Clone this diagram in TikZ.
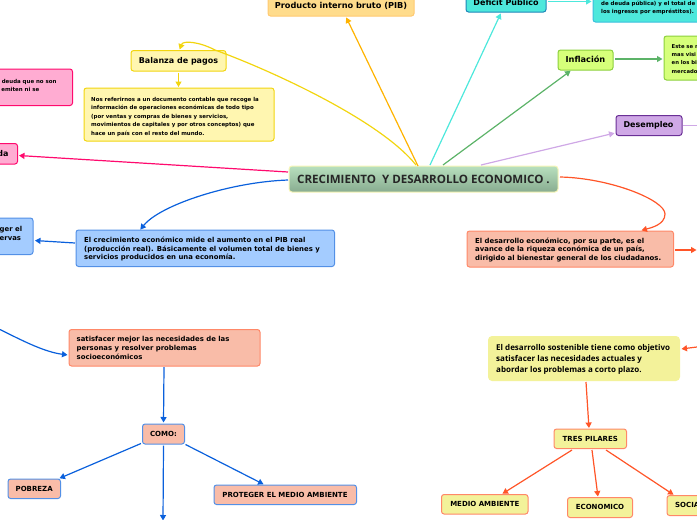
\documentclass[tikz,border=0pt]{standalone}
\usepackage{fontspec}
\setmainfont{DejaVu Sans}
\newfontfamily\opensans{Open Sans}
\usetikzlibrary{arrows.meta,calc}
\definecolor{cyel}{HTML}{F2D50F}\definecolor{fyel}{HTML}{FFF6B0}
\definecolor{corg}{HTML}{FFB300}\definecolor{forg}{HTML}{FFDC8C}
\definecolor{ccya}{HTML}{4DE8DC}\definecolor{fcya}{HTML}{4DE8DC}\definecolor{dcya}{HTML}{1C86B8}
\definecolor{cgrn}{HTML}{5CB368}\definecolor{fgrn}{HTML}{D6FF7A}\definecolor{dgrn}{HTML}{8CD03C}
\definecolor{cpur}{HTML}{CFA8E6}\definecolor{dpur}{HTML}{6A2F96}
\definecolor{cpnk}{HTML}{FF0A6E}\definecolor{fpnk}{HTML}{FFACD2}
\definecolor{cblu}{HTML}{0A60DC}\definecolor{fblu}{HTML}{A4CCFF}
\definecolor{cred}{HTML}{FF5528}\definecolor{fsal}{HTML}{F9BCA8}
\definecolor{flim}{HTML}{F3F29A}
\definecolor{gtop}{HTML}{B8E0BE}\definecolor{gbot}{HTML}{88AC90}
\tikzset{
 x=1pt,y=-1pt,
 every node/.style={inner sep=0pt},
 bx/.style={draw,rounded corners=2.6pt,line width=1pt,anchor=center},
 tx/.style={align=left,text=black,anchor=north west,yshift=-1.5pt},
 big/.style={font=\bfseries\fontsize{8}{9}\selectfont},
 sml/.style={font=\bfseries\fontsize{7}{8}\selectfont},
 body/.style={tx,font=\bfseries\fontsize{6.9}{8.6}\selectfont},
 fine/.style={tx,font=\bfseries\fontsize{5.45}{8.5}\selectfont},
 conn/.style={line width=1.2pt,-{Triangle[length=5.5pt,width=6pt]},shorten >=0.5pt},
}
\newcommand{\bxat}[6]{% name, x1,y1,x2,y2, style
  \node[bx,#6,minimum width=#4pt-#2pt,minimum height=#5pt-#3pt] (#1) at ({(#2+#4)/2},{(#3+#5)/2}) {};}
\begin{document}
\begin{tikzpicture}
\useasboundingbox (0,0) rectangle (697,520);
\begin{scope}
\clip (0,0) rectangle (697,520);
% central
\node[rounded corners=3pt,draw=flim!70!white,line width=1pt,minimum width=269pt,minimum height=26pt,top color=gtop,bottom color=gbot] (main) at (423.5,179) {};
\node[font=\opensans\bfseries\fontsize{11.55}{13}\selectfont,text=black!85] (maint) at (423.5,179) {CRECIMIENTO\ \ Y DESARROLLO ECONOMICO .};
% top row
\bxat{pib}{268}{-12}{414}{16}{draw=forg!80!orange,fill=forg}
\node[big,font=\bfseries\fontsize{8.2}{9}\selectfont] (pibt) at (341,5.5) {Producto interno bruto (PIB)};
\bxat{def}{466}{-10}{546}{12}{draw=dcya,fill=fcya}
\node[big] (deft) at (506,2) {Déficit Público};
\bxat{defd}{593}{-20}{720}{22}{draw=cblu!30!ccya,fill=fcya}
\node[fine,yshift=1.5pt] (defdt) at (601,0.5) {de deuda pública) y el total de\\los ingresos por empréstitos).};
\bxat{inf}{558}{50}{613}{70}{draw=dgrn,fill=fgrn}
\node[big,font=\bfseries\fontsize{8.2}{9}\selectfont] (inft) at (585.5,59.5) {Inflación};
\bxat{infd}{664}{36}{740}{80}{draw=dgrn,fill=fgrn}
\node[fine,font=\bfseries\fontsize{5.3}{8.4}\selectfont] (infdt) at (671.5,42.5) {Este se m\\mas visi\\en los bi\\mercado};
\bxat{des}{616}{115.5}{682}{135.5}{draw=dpur,fill=cpur}
\node[big] (dest) at (648.5,125.5) {Desempleo};
% left
\bxat{bal}{131}{50.5}{226}{71}{draw=cyel,fill=fyel}
\node[big] (balt) at (178.5,61) {Balanza de pagos};
\bxat{bald}{84}{88}{274}{141}{draw=cyel,fill=fyel}
\node[fine] (baldt) at (91,95.5) {Nos referirnos a un documento contable que recoge la\\información de operaciones económicas de todo tipo\\(por ventas y compras de bienes y servicios,\\movimientos de capitales y por otros conceptos) que\\hace un país con el resto del mundo.};
\bxat{dd}{-40}{69}{72.5}{105.5}{draw=cpnk,fill=fpnk}
\node[fine] (ddt) at (-4,77.5) {a deuda que no son\\s emiten ni se\\o};
\bxat{da}{-30}{143.5}{17.5}{164}{draw=cpnk,fill=fpnk}
\node[big,anchor=east] (dat) at (8.7,154) {da};
\bxat{pr}{-60}{218}{33}{254.5}{draw=cblu!70!white,fill=fblu}
\node[body] (prt) at (-0.5,225) {ger el\\ervas};
\bxat{cre}{76}{230}{334.5}{266.5}{draw=cblu!70!white,fill=fblu}
\node[body] (cret) at (84,235.5) {El crecimiento económico mide el aumento en el PIB real\\(producción real). Básicamente el volumen total de bienes y\\servicios producidos en una economía.};
\bxat{dsr}{467}{231}{673.5}{267}{draw=cred!70!white,fill=fsal}
\node[body] (dsrt) at (475,236) {El desarrollo económico, por su parte, es el\\avance de la riqueza económica de un país,\\dirigido al bienestar general de los ciudadanos.};
% bottom-left
\bxat{sat}{69}{329.5}{260}{366}{draw=cred!70!white,fill=fsal}
\node[body] (satt) at (76.5,335) {satisfacer mejor las necesidades de las\\personas y resolver problemas\\socioeconómicos};
\bxat{como}{142.5}{424}{184.5}{444}{draw=cblu!70!white,fill=fsal}
\node[sml] (comot) at (163.5,434.3) {COMO:};
\bxat{pob}{8}{479}{60.5}{498.5}{draw=cblu!70!white,fill=fsal}
\node[sml] (pobt) at (34.2,489.3) {POBREZA};
\bxat{prot}{214}{485}{356.5}{504.5}{draw=cblu!70!white,fill=fsal}
\node[sml] (prott) at (285,495.3) {PROTEGER EL MEDIO AMBIENTE};
\coordinate (below) at (163,521);
\coordinate (sfrom) at (0,329.5);
% bottom-right
\node[fill=flim,rounded corners=4pt,minimum width=192pt,minimum height=45pt] (sos) at (584,358.5) {};
\node[font=\opensans\bfseries\fontsize{8}{11}\selectfont,align=left,anchor=north west] (sost) at (496,344.5) {El desarrollo sostenible tiene como objetivo\\satisfacer las necesidades actuales y\\abordar los problemas a corto plazo.};
\bxat{tres}{554}{429}{626.5}{448.5}{draw=cred!70!white,fill=flim}
\node[sml] (trest) at (590.3,439.3) {TRES PILARES};
\bxat{med}{441.5}{494.5}{528}{514}{draw=cred!70!white,fill=flim}
\node[sml] (medt) at (484.8,504.3) {MEDIO AMBIENTE};
\bxat{eco}{567.5}{497.5}{632.5}{517.5}{draw=cred!70!white,fill=flim}
\node[sml] (ecot) at (600,507.3) {ECONOMICO};
\bxat{soc}{667}{495.5}{740}{515.5}{draw=cred!70!white,fill=flim}
\node[sml,anchor=west] (soct) at (675,505.3) {SOCIAL};
\coordinate (sosr) at (697,347);
\coordinate (dsrr) at (697,250);
\coordinate (desr) at (697,125.5);
% connectors
\draw[conn,corg] (418,166) -- (346,17);
\draw[conn,cyel] (416,165) .. controls (380,120) and (270,70) .. (215,50) .. controls (200,42) and (183,40) .. (179.5,50);
\draw[conn,ccya] (430,165) -- (501,13);
\draw[conn,cgrn] (443,165) -- (571,70.5);
\draw[conn,cpur] (481,165) -- (615,133);
\draw[conn,cpnk] (288,172) -- (18.5,155.5);
\draw[conn,cblu] (288,180) .. controls (230,182) and (160,205) .. (140,230);
\draw[conn,cred] (560,177) .. controls (610,178) and (665,200) .. (665,214) .. controls (665,225) and (650,228) .. (641,230.5);
\draw[conn,cyel] (178.5,72.5) -- (178.5,87.5);
\draw[conn,ccya] (548,1.5) -- (592,1.5);
\draw[conn,cgrn] (615,59) -- (663,59);
\draw[line width=1.2pt,cpur] (683,125.5) -- (desr);
\draw[conn,cblu] (75,243) -- (34.5,240.5);
\draw[conn,cred] (675,250) -- (dsrr);
\draw[conn,cblu] (sfrom) .. controls (25,342) and (45,352) .. (68,355);
\draw[conn,cblu] (164,367) -- (163.5,423);
\draw[conn,cblu] (141,443.5) -- (59,478.5);
\draw[conn,cblu] (163.5,445.5) -- (below);
\draw[conn,cblu] (185.5,444.5) -- (264,484.5);
\draw[conn,cred] (sosr) -- (681,349);
\draw[conn,cred] (586,382) -- (589,428.5);
\draw[conn,cred] (572,450) -- (502,494);
\draw[conn,cred] (592,450) -- (598,497);
\draw[conn,cred] (606,450) -- (674,495);
\end{scope}
\end{tikzpicture}
\end{document}
